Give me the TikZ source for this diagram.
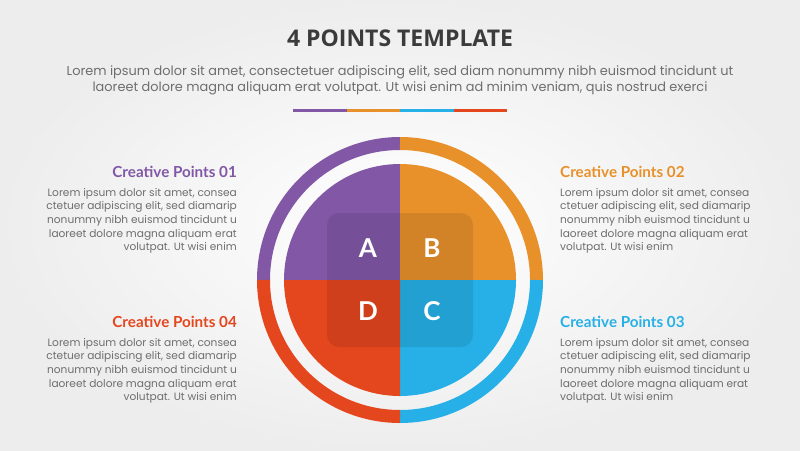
\documentclass[tikz,border=0pt]{standalone}
\usepackage{fontspec}
\setmainfont{Poppins}
\newfontfamily\titlefont{Open Sans}
\newfontfamily\headfont{Lato}
\definecolor{cpurple}{HTML}{8157A6}
\definecolor{corange}{HTML}{E8912B}
\definecolor{cblue}{HTML}{27B0E7}
\definecolor{cred}{HTML}{E4461E}
\definecolor{ctext}{HTML}{6E6E6E}
\definecolor{ctitle}{HTML}{3B3B3B}
\tikzset{
  headtext/.style={inner sep=0pt, font=\headfont\bfseries\fontsize{15.2}{17}\selectfont},
  bodytext/.style={inner sep=0pt, text=ctext, font=\fontsize{10.6}{13.6}\selectfont},
  lettertext/.style={inner sep=0pt, text=white, font=\headfont\bfseries\fontsize{26}{28}\selectfont},
}
\begin{document}
\begin{tikzpicture}[x=1pt, y=-1pt]
\useasboundingbox (0,0) rectangle (800,450);
\shade[inner color=white, outer color=black!7] (0,0) rectangle (800,450);
\node[inner sep=0pt, text=ctitle, font=\titlefont\bfseries\fontsize{23}{26}\selectfont, anchor=base] (title) at (400,46){4 POINTS TEMPLATE};
\node[inner sep=0pt, text=ctext, font=\fontsize{12.9}{16}\selectfont, align=center, anchor=north] (sub) at (400,65){Lorem ipsum dolor sit amet, consectetuer adipiscing elit, sed diam nonummy nibh euismod tincidunt ut\\laoreet dolore magna aliquam erat volutpat. Ut wisi enim ad minim veniam, quis nostrud exerci};
\draw[line width=3pt, cpurple] (293,110) -- (346.5,110);
\draw[line width=3pt, corange] (346.5,110) -- (400,110);
\draw[line width=3pt, cblue] (400,110) -- (453.5,110);
\draw[line width=3pt, cred] (453.5,110) -- (507,110);

% ring and quarters (y axis points down, so 270 is up)
\coordinate (mid) at (400,280);
\draw[line width=13pt, cpurple] (mid) ++(180:136.5) arc[start angle=180, end angle=270, radius=136.5];
\draw[line width=13pt, corange] (mid) ++(270:136.5) arc[start angle=270, end angle=360, radius=136.5];
\draw[line width=13pt, cblue] (mid) ++(0:136.5) arc[start angle=0, end angle=90, radius=136.5];
\draw[line width=13pt, cred] (mid) ++(90:136.5) arc[start angle=90, end angle=180, radius=136.5];
\fill[cpurple] (mid) -- ++(180:116) arc[start angle=180, end angle=270, radius=116] -- cycle;
\fill[corange] (mid) -- ++(270:116) arc[start angle=270, end angle=360, radius=116] -- cycle;
\fill[cblue] (mid) -- ++(0:116) arc[start angle=0, end angle=90, radius=116] -- cycle;
\fill[cred] (mid) -- ++(90:116) arc[start angle=90, end angle=180, radius=116] -- cycle;
\fill[black, opacity=0.09, rounded corners=12pt] (327,213) rectangle (473,347);
\node[lettertext] (la) at (368,248){A};
\node[lettertext] (lb) at (432,248){B};
\node[lettertext] (lc) at (432,311){C};
\node[lettertext] (ld) at (368,311){D};

% left side
\node[headtext, text=cpurple, anchor=base east] (h1) at (237,177){Creative Points 01};
\node[bodytext, align=right, anchor=north east] (t1) at (237,188){Lorem ipsum dolor sit amet, consea\\ctetuer adipiscing elit, sed diamarip\\nonummy nibh euismod tincidunt u\\laoreet dolore magna aliquam erat\\volutpat. Ut wisi enim};
\node[headtext, text=cred, anchor=base east] (h4) at (237,327){Creative Points 04};
\node[bodytext, align=right, anchor=north east] (t4) at (237,338){Lorem ipsum dolor sit amet, consea\\ctetuer adipiscing elit, sed diamarip\\nonummy nibh euismod tincidunt u\\laoreet dolore magna aliquam erat\\volutpat. Ut wisi enim};

% right side
\node[headtext, text=corange, anchor=base west] (h2) at (560,177){Creative Points 02};
\node[bodytext, align=left, anchor=north west] (t2) at (560,188){Lorem ipsum dolor sit amet, consea\\ctetuer adipiscing elit, sed diamarip\\nonummy nibh euismod tincidunt u\\laoreet dolore magna aliquam erat\\volutpat. Ut wisi enim};
\node[headtext, text=cblue, anchor=base west] (h3) at (560,327){Creative Points 03};
\node[bodytext, align=left, anchor=north west] (t3) at (560,338){Lorem ipsum dolor sit amet, consea\\ctetuer adipiscing elit, sed diamarip\\nonummy nibh euismod tincidunt u\\laoreet dolore magna aliquam erat\\volutpat. Ut wisi enim};
\end{tikzpicture}
\end{document}
